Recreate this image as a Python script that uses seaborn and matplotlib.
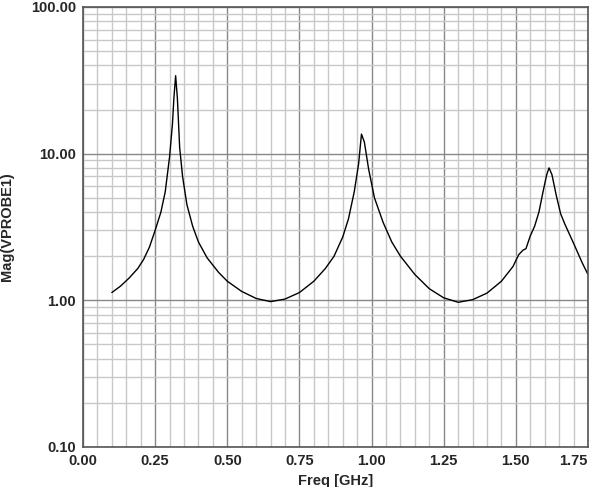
import numpy as np
import pandas as pd
import matplotlib.pyplot as plt
import seaborn as sns
from matplotlib.ticker import MultipleLocator, FixedLocator, FuncFormatter

sns.set_style("white")
plt.rcParams['font.family'] = ['Liberation Sans', 'DejaVu Sans']

# Curve
freq = [0.10, 0.13, 0.16, 0.19, 0.21, 0.23, 0.25, 0.27, 0.285, 0.30, 0.31, 0.315,
        0.321, 0.327, 0.335, 0.345, 0.36, 0.38, 0.40, 0.43, 0.47, 0.50, 0.55,
        0.60, 0.65, 0.70, 0.75, 0.80, 0.84, 0.87, 0.90, 0.92, 0.94, 0.955,
        0.965, 0.975, 0.99, 1.01, 1.04, 1.07, 1.10, 1.15, 1.20, 1.25, 1.30,
        1.35, 1.40, 1.45, 1.49, 1.51, 1.525, 1.535, 1.55, 1.565, 1.58, 1.595,
        1.607, 1.615, 1.625, 1.64, 1.655, 1.67, 1.70, 1.73, 1.75]
mag = [1.13, 1.25, 1.42, 1.65, 1.9, 2.3, 3.0, 4.0, 5.5, 9.5, 16.0, 24.0,
       34.0, 24.0, 11.0, 7.0, 4.5, 3.2, 2.5, 1.95, 1.55, 1.35, 1.15,
       1.03, 0.98, 1.02, 1.13, 1.35, 1.65, 2.0, 2.7, 3.6, 5.5, 8.5,
       13.6, 12.0, 7.8, 5.0, 3.4, 2.5, 2.0, 1.5, 1.2, 1.04, 0.97,
       1.01, 1.12, 1.35, 1.7, 2.05, 2.2, 2.25, 2.75, 3.2, 4.0, 5.6,
       7.2, 8.0, 7.2, 5.2, 3.9, 3.3, 2.45, 1.8, 1.5]
x_ticks = [0.0, 0.25, 0.5, 0.75, 1.0, 1.25, 1.5, 1.75]
df = pd.DataFrame({'Freq': freq, 'Mag': mag})

fig = plt.figure(figsize=(6, 4.87), dpi=100)
ax = fig.add_axes([83 / 600, 40 / 487, 505 / 600, 440 / 487])
sns.lineplot(data=df, x='Freq', y='Mag', color='black', linewidth=1, ax=ax)

ax.set_yscale('log')
ax.set_xlim(0, 1.75)
ax.set_ylim(0.1, 100)
ax.set_xticks(x_ticks, [f"{v:.2f}" for v in x_ticks])
ax.xaxis.set_minor_locator(MultipleLocator(0.05))
ax.yaxis.set_major_locator(FixedLocator([0.1, 1, 10, 100]))
minors = [m * 10.0 ** e for e in range(-1, 2) for m in range(2, 10)]
ax.yaxis.set_minor_locator(FixedLocator(minors))
ax.yaxis.set_major_formatter(FuncFormatter(lambda v, p: f"{v:.2f}"))
ax.yaxis.set_minor_formatter(FuncFormatter(lambda v, p: ""))

ax.grid(which='major', color='#888888', linewidth=1)
ax.grid(which='minor', color='#c8c8c8', linewidth=1)
ax.set_axisbelow(True)
for s in ax.spines.values():
    s.set_color('#555555')
    s.set_linewidth(1.2)
ax.tick_params(which='both', direction='out', length=3, color='#555555',
               labelsize=10.5, pad=2)
ax.tick_params(which='minor', length=2)
for lab in ax.get_xticklabels() + ax.get_yticklabels():
    lab.set_fontweight('bold')
ax.get_xticklabels()[-1].set_horizontalalignment('right')

ax.set_xlabel('Freq [GHz]', fontsize=10.5, fontweight='bold', labelpad=4)
ax.set_ylabel('Mag(VPROBE1)', fontsize=10.5, fontweight='bold', labelpad=12)

plt.savefig('out.png', dpi=100)
